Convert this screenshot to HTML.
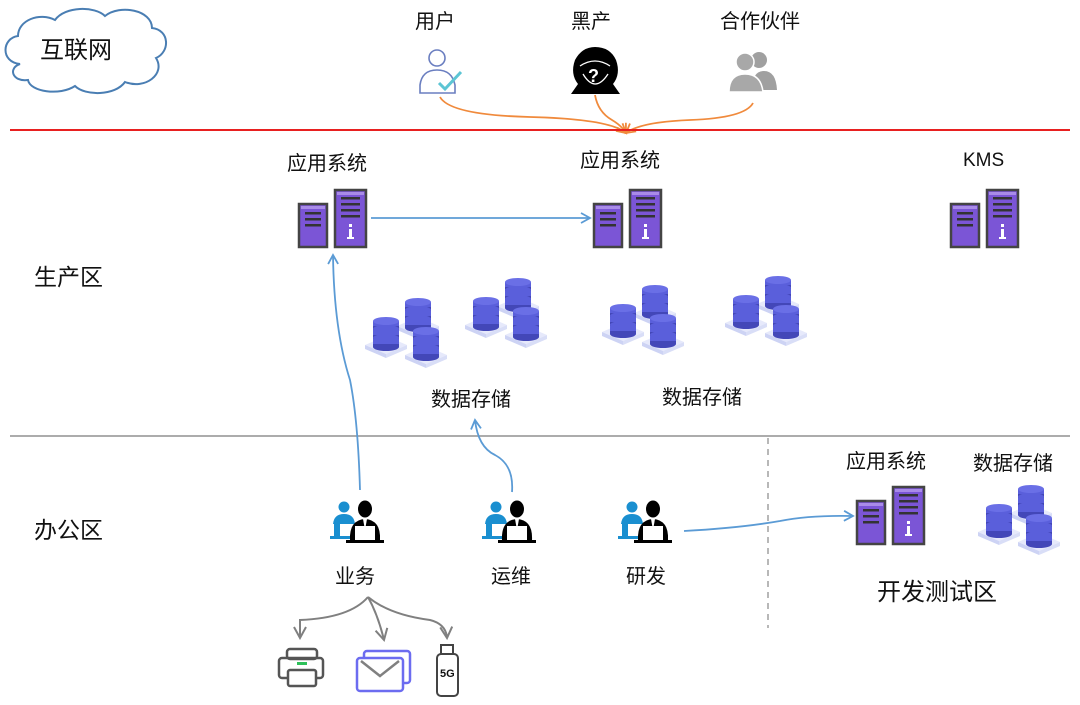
<!DOCTYPE html>
<html><head><meta charset="utf-8">
<style>
html,body{margin:0;padding:0;background:#fff;}
svg{display:block;}
text{font-family:"Liberation Sans","Noto Sans CJK SC",sans-serif;fill:#111;}
</style></head>
<body>
<svg width="1080" height="705" viewBox="0 0 1080 705" xmlns="http://www.w3.org/2000/svg">
<defs>
  <g id="srv">
    <rect x="0" y="14" width="28" height="43" fill="#7b55d6" stroke="#444" stroke-width="2.5"/>
    <rect x="2" y="16" width="24" height="3" fill="#a98be8"/>
    <rect x="6" y="22" width="16" height="2.5" fill="#333"/>
    <rect x="6" y="28" width="16" height="2.5" fill="#333"/>
    <rect x="6" y="34" width="16" height="2.5" fill="#333"/>
    <rect x="36" y="0" width="31" height="57" fill="#7b55d6" stroke="#444" stroke-width="2.5"/>
    <rect x="38" y="2" width="27" height="3" fill="#a98be8"/>
    <rect x="42" y="7" width="19" height="2.5" fill="#333"/>
    <rect x="42" y="13" width="19" height="2.5" fill="#333"/>
    <rect x="42" y="19" width="19" height="2.5" fill="#333"/>
    <rect x="42" y="25" width="19" height="2.5" fill="#333"/>
    <rect x="50" y="34" width="3" height="3" fill="#fff"/>
    <rect x="50" y="39" width="3" height="9" fill="#fff"/>
    <rect x="48" y="47" width="7" height="2" fill="#fff"/>
  </g>
  <g id="cyl">
    <path d="M-21,28 L0,19 L21,28 L0,37 Z" fill="#e6e9fb"/>
    <path d="M-21,28 L0,37 L0,41 L-21,32 Z" fill="#cdd3f4"/>
    <path d="M21,28 L0,37 L0,41 L21,32 Z" fill="#d9def7"/>
    <rect x="-13" y="4" width="26" height="26" fill="#4347b8"/>
    <ellipse cx="0" cy="30" rx="13" ry="4" fill="#4347b8"/>
    <ellipse cx="0" cy="12" rx="13" ry="4" fill="#5a5fdb"/>
    <ellipse cx="0" cy="21" rx="13" ry="4" fill="#5a5fdb"/>
    <rect x="-13" y="4" width="26" height="5" fill="#5a5fdb"/>
    <rect x="-13" y="13" width="26" height="5" fill="#5a5fdb"/>
    <rect x="-13" y="22" width="26" height="5" fill="#5a5fdb"/>
    <ellipse cx="0" cy="4" rx="13" ry="4" fill="#6a6fe6"/>
  </g>
  <g id="db">
    <use href="#cyl" x="50" y="0"/>
    <use href="#cyl" x="18" y="19"/>
    <use href="#cyl" x="58" y="29"/>
  </g>
  <g id="ppl">
    <circle cx="14" cy="7" r="5.5" fill="#1a8fd0"/>
    <path d="M3,24 Q4,14 14,14 Q24,14 25,24 Z" fill="#1a8fd0"/>
    <rect x="0" y="36" width="20" height="3" fill="#1a8fd0"/>
    <path d="M4,24 L4,37 L10,37 L10,24 Z" fill="#1a8fd0"/>
    <ellipse cx="35" cy="9" rx="7" ry="8.5" fill="#000"/>
    <path d="M20,40 Q19,20 35,19 Q51,20 50,40 Z" fill="#000"/>
    <path d="M33,19 L35,30 L37,19 Z" fill="#fff"/>
    <rect x="25" y="26" width="20" height="14" fill="#fff"/>
    <rect x="16" y="40" width="38" height="3" fill="#000"/>
  </g>
  <marker id="ab" markerWidth="12" markerHeight="12" refX="10" refY="6" orient="auto" markerUnits="userSpaceOnUse">
    <path d="M1,1 L10,6 L1,11" fill="none" stroke="#5b9bd5" stroke-width="1.8"/>
  </marker>
  <marker id="ag" markerWidth="14" markerHeight="14" refX="12" refY="7" orient="auto" markerUnits="userSpaceOnUse">
    <path d="M1,1 L12,7 L1,13" fill="none" stroke="#808080" stroke-width="2"/>
  </marker>
  <marker id="ao" markerWidth="12" markerHeight="12" refX="10" refY="6" orient="auto" markerUnits="userSpaceOnUse">
    <path d="M1,1 L10,6 L1,11" fill="none" stroke="#f08a3c" stroke-width="1.8"/>
  </marker>
</defs>

<!-- cloud -->
<path d="M20,64 C0,62 2,38 18,36 C18,20 40,12 55,20 C65,6 95,6 105,16 C120,4 152,10 152,28 C170,30 170,52 156,58 C166,74 145,90 125,82 C115,96 85,96 75,86 C60,96 30,92 28,80 C12,82 8,68 20,64 Z" fill="#fff" stroke="#4a7eb3" stroke-width="2"/>
<text x="40" y="58" font-size="24">互联网</text>

<!-- top actors -->
<text x="415" y="28" font-size="20">用户</text>
<text x="571" y="28" font-size="20">黑产</text>
<text x="720" y="28" font-size="20">合作伙伴</text>
<!-- user icon -->
<circle cx="437" cy="58" r="8" fill="none" stroke="#6a7ec0" stroke-width="1.6"/>
<path d="M420,93 L420,85 Q422,70 437,70 Q452,70 455,85 L455,93 Z" fill="none" stroke="#6a7ec0" stroke-width="1.6"/>
<path d="M439,83 L445,89 L461,72" fill="none" stroke="#5cc5d4" stroke-width="3"/>
<!-- hacker icon -->
<path d="M571,94 L578,84 Q570,74 575,60 Q582,47 595,47 Q610,47 616,60 Q621,74 613,84 L620,94 Z" fill="#000"/>
<path d="M580,66 Q595,56 610,66" fill="none" stroke="#fff" stroke-width="1.3"/>
<path d="M583,74 Q595,94 608,74" fill="none" stroke="#fff" stroke-width="1.3"/>
<text x="588" y="82" font-size="18" font-weight="bold" style="fill:#fff">?</text>
<!-- partner icon -->
<circle cx="759" cy="60" r="8" fill="#a0a0a0"/>
<path d="M752,90 Q752,71 764,71 Q776,71 777,90 Z" fill="#a0a0a0"/>
<circle cx="745" cy="62" r="9" fill="#a8a8a8" stroke="#fff" stroke-width="1.5"/>
<path d="M729,92 Q729,74 745,74 Q761,74 763,92 Z" fill="#a8a8a8" stroke="#fff" stroke-width="1.5"/>

<!-- orange arrows -->
<path d="M440,97 Q450,115 530,117 Q610,119 626,133" fill="none" stroke="#f08a3c" stroke-width="1.8" marker-end="url(#ao)"/>
<path d="M595,95 Q598,112 612,120 Q622,126 626,133" fill="none" stroke="#f08a3c" stroke-width="1.8" marker-end="url(#ao)"/>
<path d="M753,103 Q745,118 690,120 Q640,122 626,133" fill="none" stroke="#f08a3c" stroke-width="1.8" marker-end="url(#ao)"/>

<!-- red line -->
<line x1="10" y1="130" x2="1070" y2="130" stroke="#e82020" stroke-width="2"/>

<!-- production zone -->
<text x="287" y="170" font-size="20">应用系统</text>
<text x="580" y="167" font-size="20">应用系统</text>
<text x="963" y="166" font-size="19">KMS</text>
<use href="#srv" x="299" y="190"/>
<use href="#srv" x="594" y="190"/>
<use href="#srv" x="951" y="190"/>
<line x1="371" y1="218" x2="590" y2="218" stroke="#5b9bd5" stroke-width="1.8" marker-end="url(#ab)"/>
<text x="34" y="285" font-size="23">生产区</text>
<use href="#db" x="368" y="298"/>
<use href="#db" x="468" y="278"/>
<use href="#db" x="605" y="285"/>
<use href="#db" x="728" y="276"/>
<text x="431" y="406" font-size="20">数据存储</text>
<text x="662" y="404" font-size="20">数据存储</text>

<line x1="10" y1="436" x2="1070" y2="436" stroke="#a0a0a0" stroke-width="1.8"/>
<line x1="768" y1="438" x2="768" y2="628" stroke="#a0a0a0" stroke-width="1.5" stroke-dasharray="6,5"/>

<!-- blue arrows -->
<path d="M360,490 Q358,420 350,380 Q334,330 333,255" fill="none" stroke="#5b9bd5" stroke-width="1.8" marker-end="url(#ab)"/>
<path d="M512,492 Q514,465 495,455 Q478,447 475,420" fill="none" stroke="#5b9bd5" stroke-width="1.8" marker-end="url(#ab)"/>
<path d="M684,531 Q740,528 780,521 Q810,515 853,516" fill="none" stroke="#5b9bd5" stroke-width="1.8" marker-end="url(#ab)"/>

<!-- office -->
<text x="34" y="538" font-size="23">办公区</text>
<use href="#ppl" x="330" y="500"/>
<use href="#ppl" x="482" y="500"/>
<use href="#ppl" x="618" y="500"/>
<text x="335" y="583" font-size="20">业务</text>
<text x="491" y="583" font-size="20">运维</text>
<text x="626" y="583" font-size="20">研发</text>

<!-- gray arrows -->
<path d="M368,597 Q350,618 300,620 L300,638" fill="none" stroke="#808080" stroke-width="2" marker-end="url(#ag)"/>
<path d="M368,597 Q378,615 384,640" fill="none" stroke="#808080" stroke-width="2" marker-end="url(#ag)"/>
<path d="M368,597 Q390,615 430,620 Q446,624 447,638" fill="none" stroke="#808080" stroke-width="2" marker-end="url(#ag)"/>

<!-- printer -->
<rect x="287" y="649" width="30" height="10" rx="3" fill="none" stroke="#555" stroke-width="2.5"/>
<rect x="279" y="658" width="44" height="20" rx="3" fill="none" stroke="#555" stroke-width="2.5"/>
<rect x="288" y="670" width="28" height="16" rx="2" fill="#fff" stroke="#555" stroke-width="2.5"/>
<rect x="297" y="662" width="10" height="3" fill="#2ec05a"/>
<!-- mail -->
<rect x="364" y="651" width="46" height="32" rx="3" fill="#fff" stroke="#6c6cf0" stroke-width="2.5"/>
<rect x="357" y="658" width="46" height="33" rx="3" fill="#fff" stroke="#6c6cf0" stroke-width="2.5"/>
<path d="M361,661 L380,676 L399,661" fill="none" stroke="#808080" stroke-width="2.5"/>
<!-- usb -->
<rect x="441" y="645" width="12" height="9" fill="none" stroke="#444" stroke-width="2"/>
<rect x="437" y="654" width="21" height="42" rx="4" fill="none" stroke="#444" stroke-width="2"/>
<text x="440" y="677" font-size="11" font-weight="bold">5G</text>

<!-- dev zone -->
<text x="846" y="468" font-size="20">应用系统</text>
<text x="973" y="470" font-size="20">数据存储</text>
<use href="#srv" x="857" y="487"/>
<use href="#db" x="981" y="485"/>
<text x="877" y="600" font-size="24">开发测试区</text>
</svg>
</body></html>
